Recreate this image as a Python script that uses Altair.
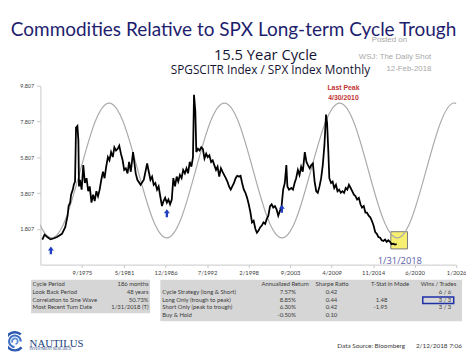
import altair as alt
import pandas as pd

# ---------------- data ----------------
line_years = [1970.34, 1970.64, 1971.0, 1971.44, 1971.92, 1972.32, 1972.98, 1973.42, 1973.74, 1973.87,
              1974.08, 1974.21, 1974.44, 1974.57, 1974.74, 1974.87, 1975.06, 1975.19, 1975.27, 1975.40,
              1975.63, 1975.85, 1976.06, 1976.29, 1976.51, 1976.72, 1976.95, 1977.17, 1977.38, 1977.61,
              1977.83, 1978.05, 1978.27, 1978.50, 1978.71, 1978.93, 1979.16, 1979.37, 1979.59, 1979.82,
              1980.03, 1980.25, 1980.48, 1980.69, 1980.91, 1981.14, 1981.35, 1981.57, 1981.80, 1982.01,
              1982.24, 1982.54, 1982.90, 1983.12, 1983.56, 1983.99, 1984.44, 1984.66, 1984.88, 1985.10,
              1985.32, 1985.54, 1985.77, 1985.98, 1986.20, 1986.43, 1986.64, 1986.86, 1987.09, 1987.30,
              1987.52, 1987.75, 1987.96, 1988.19, 1988.41, 1988.62, 1988.85, 1989.07, 1989.28, 1989.51,
              1989.73, 1989.94, 1990.17, 1990.39, 1990.60, 1990.74, 1990.92, 1991.05, 1991.27, 1991.49,
              1991.72, 1991.93, 1992.15, 1992.38, 1992.59, 1992.81, 1993.04, 1993.25, 1993.47, 1993.70,
              1993.91, 1994.13, 1994.36, 1994.57, 1994.79, 1995.02, 1995.23, 1995.45, 1995.68, 1995.89,
              1996.12, 1996.34, 1996.55, 1996.78, 1997.00, 1997.21, 1997.44, 1997.66, 1997.88, 1998.10,
              1998.33, 1998.54, 1998.76, 1998.99, 1999.20, 1999.42, 1999.65, 1999.86, 2000.08, 2000.31,
              2000.52, 2000.74, 2000.97, 2001.18, 2001.40, 2001.63, 2001.84, 2002.07, 2002.29, 2002.50,
              2002.73, 2002.95, 2003.16, 2003.30, 2003.52, 2003.82, 2004.05, 2004.27, 2004.48, 2004.71,
              2004.93, 2005.15, 2005.37, 2005.64, 2005.86, 2006.07, 2006.30, 2006.52, 2006.73, 2006.96,
              2007.18, 2007.39, 2007.62, 2007.84, 2008.06, 2008.28, 2008.50, 2008.64, 2008.81, 2008.94,
              2009.17, 2009.38, 2009.60, 2009.83, 2010.04, 2010.26, 2010.49, 2010.70, 2010.92, 2011.15,
              2011.36, 2011.58, 2011.81, 2012.02, 2012.25, 2012.47, 2012.68, 2012.91, 2013.13, 2013.34,
              2013.57, 2013.79, 2014.00, 2014.23, 2014.45, 2014.66, 2014.89, 2015.11, 2015.33, 2015.55,
              2015.77, 2015.99, 2016.21, 2016.44, 2016.65, 2016.87, 2017.10, 2017.31, 2017.53, 2017.76,
              2018.00]
line_values = [1.20, 1.48, 1.35, 1.22, 1.28, 1.35, 1.53, 1.90, 2.54, 3.08,
               3.27, 3.72, 4.00, 4.27, 4.45, 7.47, 7.56, 6.74, 4.18, 4.55,
               4.00, 5.37, 4.37, 4.64, 3.91, 4.18, 3.27, 3.72, 3.36, 3.91,
               3.63, 4.00, 4.55, 5.00, 4.64, 5.28, 5.82, 5.64, 6.10, 5.82,
               6.37, 6.19, 6.28, 6.46, 6.01, 5.64, 5.10, 5.19, 4.91, 5.55,
               5.00, 6.10, 4.91, 4.55, 4.27, 4.55, 5.46, 5.00, 4.55, 4.73,
               4.27, 4.37, 4.00, 4.18, 3.63, 3.08, 3.36, 3.54, 3.27, 3.45,
               3.18, 3.45, 4.64, 4.18, 4.73, 4.45, 4.82, 4.64, 5.10, 4.91,
               5.19, 4.91, 5.55, 5.28, 5.82, 9.30, 8.38, 6.10, 6.28, 6.19,
               6.37, 6.28, 5.74, 6.01, 5.82, 5.92, 5.55, 5.64, 5.37, 5.10,
               5.28, 4.73, 5.19, 5.00, 4.82, 4.64, 4.45, 4.18, 4.00, 4.18,
               4.37, 4.64, 4.77, 4.73, 4.77, 4.37, 4.00, 3.82, 3.54, 3.18,
               2.72, 2.17, 2.26, 1.81, 1.59, 1.71, 1.90, 1.99, 2.17, 2.08,
               2.35, 2.54, 3.08, 3.18, 3.00, 3.08, 2.90, 2.54, 2.81, 3.00,
               4.00, 4.37, 5.37, 4.18, 4.00, 4.09, 4.00, 4.37, 4.64, 5.10,
               4.82, 5.28, 5.00, 6.10, 5.55, 5.37, 5.19, 5.37, 5.46, 4.45,
               3.91, 3.82, 4.18, 4.64, 5.37, 6.47, 8.20, 7.74, 6.10, 4.64,
               4.37, 4.45, 4.09, 4.27, 3.91, 4.00, 3.82, 3.91, 3.82, 4.09,
               4.00, 4.27, 4.09, 3.91, 3.72, 3.63, 3.45, 3.54, 3.18, 3.00,
               3.08, 2.72, 2.72, 2.54, 2.45, 2.26, 1.99, 1.63, 1.53, 1.35,
               1.31, 1.17, 1.13, 1.21, 1.08, 1.17, 1.08, 0.95, 0.98, 0.93,
               0.95]

sine_dates = ["1967-10-15", "1969-08-31", "1971-07-31", "1973-07-07", "1975-06-15", "1977-05-23",
              "1979-04-30", "1981-04-07", "1983-03-15", "1985-02-21", "1987-01-31", "1989-01-07",
              "1990-12-15", "1992-11-22", "1994-10-31", "1996-10-07", "1998-09-15", "2000-08-23",
              "2002-07-31", "2004-07-07", "2006-06-15", "2008-05-23", "2010-04-30", "2012-04-07",
              "2014-03-15", "2016-02-21", "2018-01-31", "2020-01-07", "2021-12-15", "2023-11-22",
              "2025-10-31", "2027-10-07"]
sine_values = [5.07, 2.40, 1.30, 2.40, 5.07, 7.74, 8.84, 7.74, 5.07, 2.40, 1.30, 2.40,
               5.07, 7.74, 8.84, 7.74, 5.07, 2.40, 1.30, 2.40, 5.07, 7.74, 8.84, 7.74,
               5.07, 2.40, 1.30, 2.40, 5.07, 7.74, 8.84, 7.74]

arrow_years = [1971.49, 1987.09, 2002.55]
arrow_values = [0.60, 2.68, 2.93]

x_tick_dates = [(1975, 9), (1981, 5), (1986, 12), (1992, 7), (1998, 2), (2003, 9),
                (2009, 4), (2014, 11), (2020, 6), (2026, 1)]
y_ticks = [1.807, 3.807, 5.807, 7.807, 9.807]

left_labels = ["Cycle Period", "Look Back Period", "Correlation to Sine Wave", "Most Recent Turn Date"]
left_values = ["186 months", "48 years", "50.73%", "1/31/2018 (T)"]
col_headers = ["Annualized Return", "Sharpe Ratio", "T-Stat in Mode", "Wins / Trades"]
row_labels = ["Cycle Strategy (long & Short)", "Long Only (trough to peak)",
              "Short Only (peak to trough)", "Buy & Hold"]
ann_return = ["7.57%", "8.85%", "6.30%", "-0.50%"]
sharpe = ["0.42", "0.44", "0.42", "0.10"]
tstat = ["", "1.48", "-1.95", ""]
wins = ["6 / 6", "3 / 3", "3 / 3", ""]

# ---------------- layout ----------------
OX, OY = 41, 84          # page position of the plot origin
W, H = 423, 182


def dy(y):
    yr = int(y)
    return pd.Timestamp(yr, 1, 1) + pd.Timedelta(days=(y - yr) * 365.25)


line_df = pd.DataFrame({"date": [dy(v) for v in line_years], "value": line_values})
sine_df = pd.DataFrame({"date": pd.to_datetime(sine_dates), "value": sine_values})
arrow_df = pd.DataFrame({"date": [dy(v) for v in arrow_years], "value": arrow_values})

xscale = alt.Scale(domain=[alt.DateTime(year=1970, month=2, date=1),
                           alt.DateTime(year=2026, month=1, date=1)])
yscale = alt.Scale(domain=[-0.193, 9.807], nice=False, zero=False)
xaxis = alt.Axis(values=[alt.DateTime(year=a, month=b, date=1) for a, b in x_tick_dates],
                 format="%-m/%Y", title=None, grid=False, labelFontSize=6, labelFont="Lato",
                 labelColor="#404040", tickSize=3, tickColor="#c8c8c8", domainColor="#c8c8c8",
                 labelPadding=2, labelFlush=False, labelOverlap=False)
yaxis = alt.Axis(values=y_ticks, format=".3f", title=None, grid=False, labelFontSize=5.5,
                 labelFont="Lato", labelColor="#404040", tickSize=4, tickColor="#c8c8c8",
                 domainColor="#c8c8c8", labelPadding=3)


def px_enc(xcol="px", ycol="py"):
    return dict(x=alt.X(f"{xcol}:Q", scale=None, axis=None),
                y=alt.Y(f"{ycol}:Q", scale=None, axis=None))


def text_layer(rows, **kw):
    df = pd.DataFrame(rows, columns=["px", "py", "label"])
    df["px"] = df["px"] - OX
    df["py"] = df["py"] - OY
    return alt.Chart(df).mark_text(**kw).encode(text="label:N", **px_enc())


def rect_layer(x1, y1, x2, y2, **kw):
    df = pd.DataFrame({"px": [x1 - OX], "py": [y1 - OY], "px2": [x2 - OX], "py2": [y2 - OY]})
    return alt.Chart(df).mark_rect(**kw).encode(
        x=alt.X("px:Q", scale=None, axis=None), y=alt.Y("py:Q", scale=None, axis=None),
        x2="px2:Q", y2="py2:Q")


layers = []
# table panels
layers.append(rect_layer(31.5, 281.5, 152.5, 315.5, fill="#d6d6d6"))
layers.append(rect_layer(163, 281.5, 470, 323.5, fill="#d6d6d6"))
layers.append(rect_layer(430, 299, 461.5, 305.5, fill="#d6d6d6", stroke="#1f2fa8", strokeWidth=1.5))
# yellow box at latest turn
layers.append(rect_layer(397.5, 232.5, 414.5, 250, fill="#f6ef72", stroke="#7a7a7a", strokeWidth=1))

sine = alt.Chart(sine_df).mark_line(interpolate="natural", color="#ababab", strokeWidth=1.2,
                                    clip=True).encode(
    x=alt.X("date:T", scale=xscale, axis=xaxis), y=alt.Y("value:Q", scale=yscale, axis=yaxis))
line = alt.Chart(line_df).mark_line(color="#000000", strokeWidth=1.8, clip=True).encode(
    x=alt.X("date:T", scale=xscale, axis=xaxis), y=alt.Y("value:Q", scale=yscale, axis=yaxis))
arrow_shape = "M-0.3,1L-0.3,0L-0.75,0L0,-1L0.75,0L0.3,0L0.3,1Z"
arrows = alt.Chart(arrow_df).mark_point(shape=arrow_shape, size=64, filled=True, opacity=1,
                                        color="#1f3fc0").encode(
    x=alt.X("date:T", scale=xscale, axis=xaxis), y=alt.Y("value:Q", scale=yscale, axis=yaxis))
layers += [sine, line, arrows]

# titles
layers.append(text_layer([(237.5, 27.5, "Commodities Relative to SPX Long-term Cycle Trough")],
                         font="Lato", fontSize=19.3, color="#1e1e6e", align="center"))
layers.append(text_layer([(270, 53, "15.5 Year Cycle")], font="Open Sans", fontSize=15,
                         color="#141432", align="center"))
layers.append(text_layer([(275, 68, "SPGSCITR Index / SPX Index Monthly")], font="Open Sans",
                         fontSize=12, color="#141432", align="center"))
layers.append(text_layer([(378, 37, "Posted on"), (365, 55, "WSJ: The Daily Shot"),
                          (393, 67, "12-Feb-2018")],
                         font="Liberation Sans", fontSize=8, color="#a8a8a8", align="left"))
# annotations
layers.append(text_layer([(349.3, 86.5, "Last Peak"), (349.3, 97, "4/30/2010")],
                         font="Liberation Sans", fontSize=7, fontWeight="bold", color="#c23434",
                         align="center"))
layers.append(text_layer([(406.7, 262.5, "1/31/2018")], font="Open Sans", fontSize=9.5,
                         color="#5a5ea8", align="center"))

# tables
ly = [286, 294, 301.7, 309.3]
ry = [286, 294, 301.7, 309.3, 316.8]
tkw = dict(font="Lato", fontSize=6, color="#3a3a3a", baseline="middle")
layers.append(text_layer([(33, y, t) for y, t in zip(ly, left_labels)], align="left", **tkw))
layers.append(text_layer([(151, y, t) for y, t in zip(ly, left_values)], align="right", **tkw))
layers.append(text_layer([(x, ry[0], t) for x, t in zip([290, 337.7, 396.7, 446], col_headers)],
                         align="center", **tkw))
layers.append(text_layer([(165, y, t) for y, t in zip(ry[1:], row_labels)], align="left", **tkw))
layers.append(text_layer([(301, y, t) for y, t in zip(ry[1:], ann_return)], align="right", **tkw))
layers.append(text_layer([(343, y, t) for y, t in zip(ry[1:], sharpe)], align="right", **tkw))
layers.append(text_layer([(394, y, t) for y, t in zip(ry[1:], tstat)], align="right", **tkw))
layers.append(text_layer([(459, y, t) for y, t in zip(ry[1:], wins)], align="right", **tkw))

# footer
layers.append(text_layer([(343, 349, "Data Source: Bloomberg"), (423, 349, "2/12/2018 7:06")],
                         font="Lato", fontSize=6.5, color="#3a3a3a", align="left"))
layers.append(text_layer([(30, 346.5, "NAUTILUS")], font="Liberation Serif", fontSize=11,
                         color="#223d7c", align="left"))
layers.append(text_layer([(30, 351.8, "INVESTMENT RESEARCH")], font="Liberation Serif",
                         fontSize=3.6, color="#223d7c", align="left"))
# logo swirl
cx, cy = 15 - OX, 344 - OY
logo = pd.DataFrame({"px": [cx]})
for r1, r2, t1, t2, col in [(8, 10.5, 2.3, 7.0, "#2d59b0"), (4.8, 7, 3.2, 7.9, "#3f70c4"),
                             (2, 3.8, 4.2, 9.2, "#5a8ad6")]:
    layers.append(alt.Chart(logo).mark_arc(color=col).encode(
        x=alt.value(cx), y=alt.value(cy), radius=alt.value(r2), radius2=alt.value(r1),
        theta=alt.value(t1), theta2=alt.value(t2)))

chart = alt.layer(*layers).properties(
    width=W, height=H,
    padding={"left": 33, "top": 76, "right": 10, "bottom": 98},
    autosize=alt.AutoSizeParams(type="none"),
    background="white",
).configure_view(strokeWidth=0)

chart.save("out.html", embed_options={"renderer": "svg", "actions": False})
